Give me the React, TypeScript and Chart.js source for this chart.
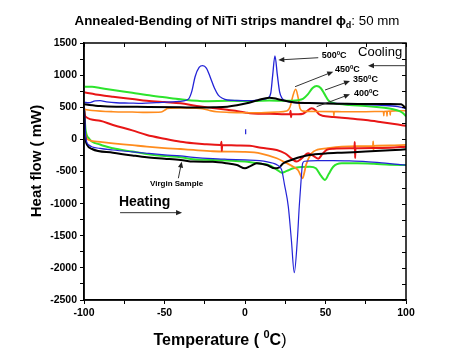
import React, { useEffect, useRef } from "react";
import { Chart, registerables } from "chart.js";
Chart.register(...registerables);

// ---- Data (Temperature °C, Heat flow mW) ----
// Cooling curves
const blueCoolX = [-100, -97, -93, -90, -86, -80, -72, -64, -55, -45, -38, -35, -33, -31, -28.5, -26.3, -24, -21.7, -19, -16.6, -14, -11, -5, 2, 8, 12, 14, 16, 17.2, 18.6, 20.1, 21.5, 23, 26, 32, 40, 50, 57, 65, 75, 85, 95, 100];
const blueCoolY = [577, 570, 600, 602, 585, 570, 565, 560, 572, 585, 600, 630, 750, 975, 1120, 1147, 1110, 975, 800, 690, 640, 613, 605, 602, 610, 625, 640, 720, 1000, 1300, 1000, 740, 640, 590, 570, 565, 560, 561, 550, 540, 530, 510, 480];

const greenCoolX = [-100, -95, -90, -82, -70, -61, -50, -40, -24, -10, 5, 15, 25, 33, 36, 39, 42, 44.5, 47, 49.5, 52, 56, 65, 75, 85, 92, 96, 98, 100];
const greenCoolY = [820, 820, 800, 768, 725, 690, 655, 624, 595, 600, 598, 605, 600, 610, 630, 700, 800, 830, 800, 700, 600, 560, 535, 520, 495, 470, 440, 410, 360];

const blackCoolX = [-100, -90, -80, -60, -40, -30, -20, -11, -5, 1, 8, 15, 20, 25, 30, 40, 50, 60, 70, 80, 90, 97, 98.5, 100];
const blackCoolY = [546, 520, 509, 505, 499, 495, 500, 509, 530, 561, 610, 649, 630, 600, 577, 565, 558, 555, 552, 552, 552, 548, 520, 483];

const redCoolX = [-100, -90, -82, -70, -61, -50, -40, -30, -20, -11, 0, 3, 10, 20, 28, 28.3, 28.6, 28.9, 33, 36, 38, 41.4, 44, 46, 48, 55, 64, 75, 85, 95, 100];
const redCoolY = [735, 690, 664, 630, 602, 580, 561, 520, 490, 460, 420, 406, 400, 395, 390, 445, 345, 390, 392, 400, 430, 483, 450, 390, 369, 350, 328, 300, 266, 230, 210];

const orangeCoolX = [-100, -95, -82, -70, -61, -52, -49, -48, -40, -28, -22, -17.6, -10, 0, 10, 20, 25.9, 28, 30, 31.5, 33, 34.2, 36, 45, 55, 55.2, 55.4, 60, 75, 86, 86.2, 86.4, 88, 88.2, 88.4, 90, 90.2, 90.4, 95, 100];
const orangeCoolY = [468, 450, 431, 425, 420, 425, 470, 483, 490, 483, 450, 431, 420, 415, 415, 425, 440, 509, 700, 779, 650, 480, 440, 435, 432, 370, 432, 431, 431, 435, 370, 435, 438, 360, 438, 440, 375, 440, 445, 445];

// Heating curves
const blueHeatX = [-100, -99.5, -99, -97, -90, -82, -70, -61, -50, -40, -32, -20, -11, 0, 9, 17.6, 20, 22.8, 24.5, 26.9, 28.8, 30.6, 32.5, 33.7, 34.8, 35.8, 37, 45, 55, 65, 75, 85, 95, 100];
const blueHeatY = [520, 300, 42, -87, -140, -165, -195, -216, -240, -258, -279, -300, -310, -320, -330, -372, -400, -476, -700, -1046, -1565, -2073, -1565, -1046, -650, -372, -340, -330, -330, -335, -345, -365, -390, -400];

const redHeatX = [-100, -99.5, -99, -90, -82, -70, -61, -50, -40, -32, -25, -15, -14.6, -14.4, -14.2, -5, 3, 10, 19.7, 25, 29, 32.1, 35, 39.3, 42, 45.5, 48, 50.7, 55, 65, 68, 68.2, 68.4, 68.6, 80, 90, 100];
const redHeatY = [500, 380, 353, 290, 224, 140, 68, 10, -36, -60, -75, -87, -36, -180, -90, -95, -100, -130, -165, -220, -300, -346, -300, -216, -250, -300, -230, -165, -145, -140, -140, -40, -290, -140, -135, -130, -113];

const orangeHeatX = [-100, -99.5, -99, -97, -90, -82, -70, -61, -50, -40, -32, -20, -11, 0, 10, 19.7, 25, 30, 33, 35.8, 37, 38, 41.4, 45, 50.7, 60, 70, 79.5, 79.6, 79.8, 80, 90, 100];
const orangeHeatY = [480, 200, 68, -9, -40, -61, -90, -113, -135, -150, -165, -185, -191, -195, -220, -294, -360, -425, -480, -605, -500, -390, -216, -160, -139, -113, -105, -100, -30, -170, -100, -95, -87];

const greenHeatX = [-100, -99.5, -99, -97, -90, -82, -70, -61, -50, -40, -32, -20, -11, 0, 10, 15, 19.7, 22.8, 26, 30, 35, 40.3, 44, 47, 49.7, 52, 54.8, 60, 70, 80, 90, 100];
const greenHeatY = [480, 300, 146, 17, -80, -139, -190, -227, -260, -279, -310, -320, -330, -346, -380, -400, -470, -518, -490, -450, -430, -425, -450, -560, -631, -540, -425, -372, -372, -380, -395, -398];

const blackHeatX = [-100, -99.6, -99.2, -98, -95, -82, -70, -61, -50, -40, -32, -20, -11.4, -5, 0, 3, 7.3, 13.5, 18.6, 21, 23.8, 30, 35, 40, 50, 60, 75, 90, 100];
const blackHeatY = [500, 300, 42, -87, -150, -207, -250, -279, -300, -320, -346, -350, -372, -400, -450, -420, -372, -398, -450, -440, -372, -310, -270, -243, -220, -207, -190, -170, -155];

const blueMarkX = [0.4, 0.4];
const blueMarkY = [80, 157];

// Axis ticks
const xMin = -100, xMax = 100, xMajor = 50, xMinor = 25;
const yMin = -2500, yMax = 1500, yMajor = 500, yMinor = 250;

// Text
const TITLE_MAIN = "Annealed-Bending of NiTi strips mandrel ";
const TITLE_PHI = "ϕ";
const TITLE_SUB = "d";
const TITLE_END = ": 50 mm";
const Y_TITLE = "Heat flow ( mW)";
const X_TITLE_A = "Temperature ( ";
const X_TITLE_SUP = "0";
const X_TITLE_C = "C";
const X_TITLE_END = ")";

// Annotations: [temperature label, x, y] in data units
const labelTemps = ["500", "450", "350", "400"];
const labelX = [47.6, 55.9, 67.1, 67.7];
const labelY = [1265, 1041, 886, 675];
// arrows: from (x0,y0) to (x1,y1), head at end
const arrowX0 = [45.5, 31.1, 49.7, 44.5, 99.4, -41.4, -77.6];
const arrowY0 = [1271, 820, 768, 509, 1147, -605, -1141];
const arrowX1 = [20.7, 54.8, 65.2, 65.2, 76.4, -39.3, -39.1];
const arrowY1 = [1236, 1054, 909, 702, 1147, -347, -1141];

const FONT = "'Liberation Sans', Arial, Helvetica, sans-serif";
const BLUE = "rgb(35,35,215)";
const RED = "rgb(232,22,22)";
const GREEN = "rgb(45,228,45)";
const ORANGE = "rgb(255,140,30)";
const BLACK = "#000000";

type Seg = { t: string; f: string; dy?: number };

function drawRun(ctx: CanvasRenderingContext2D, segs: Seg[], x: number, y: number, align: "left" | "center") {
  let total = 0;
  const widths = segs.map((s) => {
    ctx.font = s.f;
    const w = ctx.measureText(s.t).width;
    total += w;
    return w;
  });
  let cx = align === "center" ? x - total / 2 : x;
  ctx.textAlign = "left";
  ctx.textBaseline = "alphabetic";
  segs.forEach((s, i) => {
    ctx.font = s.f;
    ctx.fillText(s.t, cx, y + (s.dy || 0));
    cx += widths[i];
  });
}

function arrow(ctx: CanvasRenderingContext2D, x0: number, y0: number, x1: number, y1: number) {
  const ang = Math.atan2(y1 - y0, x1 - x0);
  const hl = 6, hw = 2.6;
  ctx.beginPath();
  ctx.moveTo(x0, y0);
  ctx.lineTo(x1 - Math.cos(ang) * hl * 0.8, y1 - Math.sin(ang) * hl * 0.8);
  ctx.stroke();
  ctx.beginPath();
  ctx.moveTo(x1, y1);
  ctx.lineTo(x1 - Math.cos(ang) * hl - Math.sin(ang) * hw, y1 - Math.sin(ang) * hl + Math.cos(ang) * hw);
  ctx.lineTo(x1 - Math.cos(ang) * hl + Math.sin(ang) * hw, y1 - Math.sin(ang) * hl - Math.cos(ang) * hw);
  ctx.closePath();
  ctx.fill();
}

const overlay = {
  id: "overlay",
  afterDraw(chart: any) {
    const { ctx, chartArea: a, scales } = chart;
    const xs = scales.x, ys = scales.y;
    ctx.save();
    ctx.strokeStyle = "#000";
    ctx.fillStyle = "#000";
    // frame
    ctx.lineWidth = 1.5;
    ctx.strokeRect(a.left, a.top, a.right - a.left, a.bottom - a.top);
    // inward ticks on top and right
    ctx.lineWidth = 1;
    for (let v = xMin; v <= xMax; v += xMinor) {
      const px = Math.round(xs.getPixelForValue(v)) + 0.5;
      ctx.beginPath();
      ctx.moveTo(px, a.top);
      ctx.lineTo(px, a.top + 4);
      ctx.stroke();
    }
    for (let v = yMin; v <= yMax; v += yMinor) {
      const py = Math.round(ys.getPixelForValue(v)) + 0.5;
      ctx.beginPath();
      ctx.moveTo(a.right - 4, py);
      ctx.lineTo(a.right, py);
      ctx.stroke();
    }
    // title
    drawRun(ctx, [
      { t: TITLE_MAIN, f: `bold 13.3px ${FONT}` },
      { t: TITLE_PHI, f: `bold 13.3px ${FONT}` },
      { t: TITLE_SUB, f: `bold 9px ${FONT}`, dy: 3 },
      { t: TITLE_END, f: `13.3px ${FONT}` },
    ], 237, 25, "center");
    // x title
    drawRun(ctx, [
      { t: X_TITLE_A, f: `bold 16px ${FONT}` },
      { t: X_TITLE_SUP, f: `bold 11px ${FONT}`, dy: -7 },
      { t: X_TITLE_C, f: `bold 16px ${FONT}` },
      { t: X_TITLE_END, f: `16px ${FONT}` },
    ], 220, 345, "center");
    // y title
    ctx.save();
    ctx.translate(41, 161);
    ctx.rotate(-Math.PI / 2);
    drawRun(ctx, [{ t: Y_TITLE, f: `bold 15px ${FONT}` }], 0, 0, "center");
    ctx.restore();
    // temperature labels
    labelTemps.forEach((t, i) => {
      const px = xs.getPixelForValue(labelX[i]);
      const py = ys.getPixelForValue(labelY[i]);
      drawRun(ctx, [
        { t, f: `bold 9px ${FONT}` },
        { t: "0", f: `bold 6px ${FONT}`, dy: -3.5 },
        { t: "C", f: `bold 9px ${FONT}` },
      ], px, py, "left");
    });
    // Cooling / Heating / Virgin Sample
    drawRun(ctx, [{ t: "Cooling", f: `13px ${FONT}` }], xs.getPixelForValue(70.2), ys.getPixelForValue(1298), "left");
    drawRun(ctx, [{ t: "Heating", f: `bold 14px ${FONT}` }], xs.getPixelForValue(-78.3), ys.getPixelForValue(-1036), "left");
    drawRun(ctx, [{ t: "Virgin Sample", f: `bold 8px ${FONT}` }], xs.getPixelForValue(-59), ys.getPixelForValue(-725), "left");
    // arrows
    ctx.lineWidth = 1;
    ctx.strokeStyle = "#333";
    ctx.fillStyle = "#222";
    arrowX0.forEach((_, i) => {
      arrow(ctx,
        xs.getPixelForValue(arrowX0[i]), ys.getPixelForValue(arrowY0[i]),
        xs.getPixelForValue(arrowX1[i]), ys.getPixelForValue(arrowY1[i]));
    });
    ctx.restore();
  },
};

const pts = (xs: number[], ys: number[]) => xs.map((x, i) => ({ x, y: ys[i] }));

export default function App() {
  const ref = useRef<HTMLCanvasElement | null>(null);
  useEffect(() => {
    if (!ref.current) return;
    const ds = (data: any, color: string, w: number) => ({
      data, borderColor: color, backgroundColor: color, borderWidth: w,
      showLine: true, pointRadius: 0, fill: false, cubicInterpolationMode: "monotone" as const,
    });
    const tickFont = { family: FONT, size: 10.5, weight: "bold" as const };
    const chart = new Chart(ref.current, {
      type: "scatter",
      data: {
        datasets: [
          ds(pts(blueHeatX, blueHeatY), BLUE, 1.2),
          ds(pts(blueMarkX, blueMarkY), BLUE, 1.2),
          ds(pts(blackCoolX, blackCoolY), BLACK, 2),
          ds(pts(blueCoolX, blueCoolY), BLUE, 1.3),
          ds(pts(greenCoolX, greenCoolY), GREEN, 2),
          ds(pts(orangeCoolX, orangeCoolY), ORANGE, 1.6),
          ds(pts(redCoolX, redCoolY), RED, 2),
          ds(pts(blackHeatX, blackHeatY), BLACK, 2),
          ds(pts(redHeatX, redHeatY), RED, 2),
          ds(pts(orangeHeatX, orangeHeatY), ORANGE, 1.8),
          ds(pts(greenHeatX, greenHeatY), GREEN, 2),
        ],
      },
      options: {
        animation: false,
        responsive: false,
        maintainAspectRatio: false,
        layout: { padding: { top: 43, right: 68, left: 0, bottom: 0 } },
        plugins: { legend: { display: false }, tooltip: { enabled: false }, title: { display: false } },
        scales: {
          x: {
            type: "linear", min: xMin, max: xMax,
            afterFit: (s: any) => { s.height = 61; },
            ticks: {
              stepSize: xMinor, autoSkip: false, maxRotation: 0, color: "#000", font: tickFont, padding: 3,
              callback: (v: any) => (Number(v) % xMajor === 0 ? String(v) : ""),
            },
            grid: { drawOnChartArea: false, drawTicks: true, tickLength: 4, color: "#000" },
            border: { display: true, color: "#000", width: 1.5 },
          },
          y: {
            type: "linear", min: yMin, max: yMax,
            afterFit: (s: any) => { s.width = 84; },
            ticks: {
              stepSize: yMinor, autoSkip: false, color: "#000", font: tickFont, padding: 3,
              callback: (v: any) => (Number(v) % yMajor === 0 ? String(v) : ""),
            },
            grid: { drawOnChartArea: false, drawTicks: true, tickLength: 4, color: "#000" },
            border: { display: true, color: "#000", width: 1.5 },
          },
        },
      },
      plugins: [overlay],
    });
    return () => chart.destroy();
  }, []);
  return (
    <div style={{ position: "fixed", left: 0, top: 0, width: 474, height: 361, background: "#fff" }}>
      <canvas ref={ref} width={474} height={361} style={{ width: 474, height: 361, display: "block" }} />
    </div>
  );
}
